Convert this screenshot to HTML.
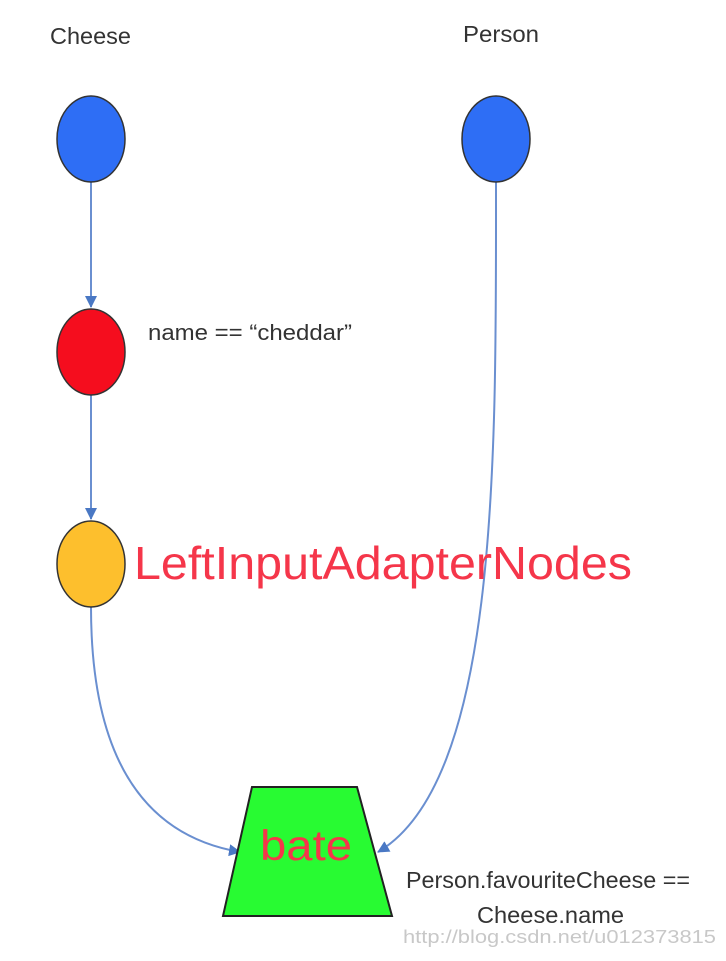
<!DOCTYPE html>
<html><head><style>
html,body{margin:0;padding:0;background:#fff;}
body{width:726px;height:956px;position:relative;overflow:hidden;}
text{font-family:"Liberation Sans",sans-serif;}
</style></head><body>
<svg width="726" height="956" viewBox="0 0 726 956" xmlns="http://www.w3.org/2000/svg">
<defs>
<marker id="a" markerWidth="12" markerHeight="12" refX="11" refY="6" orient="auto" markerUnits="userSpaceOnUse">
<path d="M0,0 L12,6 L0,12 Z" fill="#4a78c4"/>
</marker>
</defs>
<text x="50" y="44" font-size="23" fill="#333" textLength="81" lengthAdjust="spacingAndGlyphs">Cheese</text>
<text x="463" y="42" font-size="23" fill="#333" textLength="76" lengthAdjust="spacingAndGlyphs">Person</text>
<g stroke="#6a8fd0" stroke-width="2" fill="none">
<line x1="91" y1="182" x2="91" y2="307" marker-end="url(#a)"/>
<line x1="91" y1="395" x2="91" y2="519" marker-end="url(#a)"/>
<path d="M91,607 C91,700 110,830 240,852" marker-end="url(#a)"/>
<path d="M496,182 C496,450 500,780 378,852" marker-end="url(#a)"/>
</g>
<ellipse cx="91" cy="139" rx="34" ry="43" fill="#2e6ef5" stroke="#333" stroke-width="1.5"/>
<ellipse cx="496" cy="139" rx="34" ry="43" fill="#2e6ef5" stroke="#333" stroke-width="1.5"/>
<ellipse cx="91" cy="352" rx="34" ry="43" fill="#f50d1e" stroke="#333" stroke-width="1.5"/>
<ellipse cx="91" cy="564" rx="34" ry="43" fill="#fdbf2d" stroke="#333" stroke-width="1.5"/>
<text x="148" y="340" font-size="22" fill="#333" textLength="204" lengthAdjust="spacingAndGlyphs">name == “cheddar”</text>
<text x="134" y="579" font-size="46" fill="#f5364a" textLength="498" lengthAdjust="spacingAndGlyphs">LeftInputAdapterNodes</text>
<polygon points="252,787 357,787 392,916 223,916" fill="#28fb32" stroke="#222" stroke-width="2"/>
<text x="260" y="860" font-size="43" fill="#f5364a" textLength="92" lengthAdjust="spacingAndGlyphs">bate</text>
<text x="406" y="888" font-size="23" fill="#333" textLength="284" lengthAdjust="spacingAndGlyphs">Person.favouriteCheese ==</text>
<text x="477" y="923" font-size="23" fill="#333" textLength="147" lengthAdjust="spacingAndGlyphs">Cheese.name</text>
<text x="403" y="943" font-size="18" fill="#c8c8c8" textLength="313" lengthAdjust="spacingAndGlyphs" font-family="Liberation Serif,serif">http://blog.csdn.net/u012373815</text>
</svg>
</body></html>
